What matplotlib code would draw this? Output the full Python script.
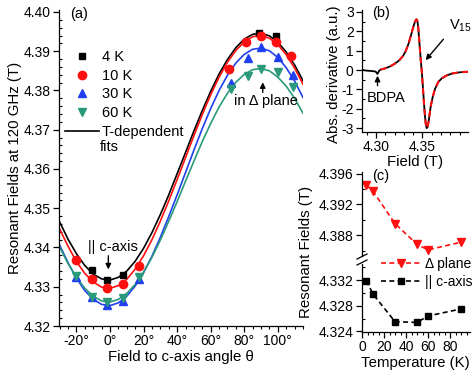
import numpy as np
import matplotlib
matplotlib.use('Agg')
import matplotlib.pyplot as plt
from matplotlib.lines import Line2D
from matplotlib.ticker import MultipleLocator

plt.rcParams['font.family'] = ['Liberation Sans', 'DejaVu Sans']
plt.rcParams['font.size'] = 10.5
plt.rcParams['axes.labelsize'] = 10.8
plt.rcParams['mathtext.default'] = 'regular'
plt.rcParams['axes.unicode_minus'] = False
plt.rcParams['axes.linewidth'] = 0.9

# ---- panel (a): resonant field vs angle ----
ang_4K = [-11, -2, 8, 89, 99]
b_4K = [4.3342, 4.3318, 4.3331, 4.3946, 4.3939]
ang_10K = [-20, -11, -2, 8, 17, 71, 81, 90, 99, 108]
b_10K = [4.3367, 4.3319, 4.3297, 4.3308, 4.3353, 4.3855, 4.3923, 4.3939, 4.3923, 4.3888]
ang_30K = [-20, -11, -2, 8, 17, 72, 82, 90, 100, 109]
b_30K = [4.3325, 4.3273, 4.3253, 4.3264, 4.3321, 4.3818, 4.3883, 4.3911, 4.3886, 4.3840]
ang_60K = [-20, -11, -2, 8, 17, 72, 82, 90, 100, 109]
b_60K = [4.3327, 4.3275, 4.3262, 4.3272, 4.3324, 4.3805, 4.3838, 4.3855, 4.3848, 4.3810]

# fit curves every 5 degrees
fit_ang = [-30, -25, -20, -15, -10, -5, 0, 5, 10, 15, 20, 25, 30, 35, 40,
           45, 50, 55, 60, 65, 70, 75, 80, 85, 90, 95, 100, 105, 110, 115]
fit_4K = [4.3465, 4.3421, 4.3384, 4.3354, 4.3332, 4.3320, 4.3317, 4.3324, 4.3340, 4.3365,
          4.3398, 4.3438, 4.3484, 4.3534, 4.3588, 4.3642, 4.3697, 4.3749, 4.3798, 4.3842,
          4.3879, 4.3909, 4.3931, 4.3943, 4.3946, 4.3939, 4.3923, 4.3898, 4.3865, 4.3825]
fit_10K = [4.3447, 4.3403, 4.3364, 4.3334, 4.3312, 4.3299, 4.3296, 4.3303, 4.3319, 4.3345,
           4.3379, 4.3420, 4.3467, 4.3519, 4.3573, 4.3629, 4.3685, 4.3739, 4.3789, 4.3834,
           4.3872, 4.3902, 4.3924, 4.3937, 4.3940, 4.3933, 4.3917, 4.3891, 4.3857, 4.3816]
fit_30K = [4.3406, 4.3361, 4.3322, 4.3290, 4.3268, 4.3255, 4.3252, 4.3259, 4.3276, 4.3302,
           4.3336, 4.3378, 4.3426, 4.3479, 4.3534, 4.3591, 4.3648, 4.3703, 4.3754, 4.3800,
           4.3839, 4.3870, 4.3892, 4.3905, 4.3908, 4.3901, 4.3884, 4.3858, 4.3824, 4.3782]
fit_60K = [4.3401, 4.3359, 4.3324, 4.3296, 4.3276, 4.3264, 4.3261, 4.3268, 4.3283, 4.3306,
           4.3337, 4.3375, 4.3419, 4.3467, 4.3517, 4.3569, 4.3620, 4.3670, 4.3716, 4.3758,
           4.3793, 4.3821, 4.3841, 4.3853, 4.3856, 4.3850, 4.3834, 4.3811, 4.3780, 4.3742]

angle_ticks = [-20, 0, 20, 40, 60, 80, 100]

# ---- panel (b): spectrum ----
field = [4.2855, 4.290, 4.295, 4.299, 4.3005, 4.3015, 4.3025, 4.3035, 4.305, 4.310,
         4.315, 4.320, 4.325, 4.329, 4.332, 4.335, 4.338, 4.340, 4.342, 4.3435,
         4.3445, 4.3455, 4.3465, 4.3475, 4.3485, 4.3495, 4.3505, 4.3515, 4.3525, 4.3535,
         4.3545, 4.3555, 4.3565, 4.3575, 4.3590, 4.361, 4.3635, 4.367, 4.371, 4.376,
         4.382, 4.388, 4.394, 4.399]
signal = [0.0, -0.03, -0.05, -0.07, -0.12, -0.20, -0.12, -0.03, 0.02, 0.09,
          0.18, 0.32, 0.50, 0.72, 0.98, 1.35, 1.85, 2.20, 2.50, 2.62,
          2.55, 2.20, 1.55, 0.95, 0.35, -0.20, -0.90, -1.60, -2.25, -2.75,
          -3.00, -2.95, -2.70, -2.35, -1.85, -1.40, -0.98, -0.62, -0.42, -0.28,
          -0.18, -0.13, -0.10, -0.09]
fit_start = 8  # fit drawn from 4.305 T on

# ---- panel (c): temperature dependence ----
temps = [4, 10, 30, 50, 60, 90]
delta_plane = [4.3945, 4.3937, 4.3895, 4.3868, 4.3861, 4.3871]
c_axis = [4.3319, 4.3298, 4.3255, 4.3254, 4.3264, 4.3275]

W, H = 474, 372


def box(l, t, r, b):
    return [l / W, 1 - b / H, (r - l) / W, (b - t) / H]


def style(ax):
    for s in ['top', 'right']:
        ax.spines[s].set_visible(False)
    ax.tick_params(which='major', direction='out', length=4, width=0.9, labelsize=10, pad=2)
    ax.tick_params(which='minor', direction='out', length=2, width=0.8)
    ax.tick_params(axis='y', which='minor', direction='in')


red = '#ff1010'
blue = '#2040f0'
teal = '#2a9a7a'
arrow = dict(arrowstyle='-|>', color='k', lw=1, mutation_scale=8)

fig = plt.figure(figsize=(4.74, 3.72), dpi=100)

ax = fig.add_axes(box(59, 10, 303, 326))
style(ax)
ax.plot(fit_ang, fit_4K, color='k', lw=1.2)
ax.plot(fit_ang, fit_10K, color=red, lw=1.2)
ax.plot(fit_ang, fit_30K, color=blue, lw=1.2)
ax.plot(fit_ang, fit_60K, color=teal, lw=1.2)
ax.plot(ang_4K, b_4K, 's', color='k', ms=5)
ax.plot(ang_10K, b_10K, 'o', color=red, ms=6)
ax.plot(ang_30K, b_30K, '^', color=blue, ms=6)
ax.plot(ang_60K, b_60K, 'v', color=teal, ms=6)
ax.set_xlim(-30.4, 115)
ax.set_ylim(4.32, 4.4005)
ax.set_xticks(angle_ticks, [f'{t}°' for t in angle_ticks])
ax.xaxis.set_minor_locator(MultipleLocator(5))
ax.set_yticks(np.arange(4.32, 4.4001, 0.01))
ax.yaxis.set_major_formatter(matplotlib.ticker.FormatStrFormatter('%.2f'))
ax.yaxis.set_minor_locator(MultipleLocator(0.002))
ax.set_ylabel('Resonant Fields at 120 GHz (T)')
ax.set_xlabel('Field to c-axis angle θ')
ax.yaxis.set_label_coords(-0.152, 0.5)
ax.xaxis.set_label_coords(0.5, -0.075)

handles = [Line2D([], [], ls='none', marker='s', color='k', ms=5),
           Line2D([], [], ls='none', marker='o', color=red, ms=6),
           Line2D([], [], ls='none', marker='^', color=blue, ms=6),
           Line2D([], [], ls='none', marker='v', color=teal, ms=6),
           Line2D([], [], color='k', lw=1.2)]
labels = ['4 K', '10 K', '30 K', '60 K', 'T-dependent']
ax.legend(handles, labels, loc='upper left', bbox_to_anchor=(0.025, 0.873),
          frameon=False, borderpad=0, borderaxespad=0, handlelength=2.3,
          handletextpad=0.2, labelspacing=0.32, fontsize=10.5)
ax.text(0.168, 0.565, 'fits', transform=ax.transAxes, ha='left', va='center')

ax.annotate('', xy=(-1, 4.3337), xytext=(-1, 4.3386), arrowprops=arrow)
ax.text(2, 4.3402, '|| c-axis', ha='center', va='center')
ax.annotate('', xy=(91, 4.3828), xytext=(91, 4.3788), arrowprops=arrow)
ax.text(93, 4.3772, 'in Δ plane', ha='center', va='center')

# panel (b)
bx = fig.add_axes(box(362, 10, 468, 132))
style(bx)
bx.plot(field, signal, color='k', lw=1.3)
bx.plot(field[fit_start:], signal[fit_start:], color=red, lw=1.5, ls=(0, (3, 2)))
bx.set_xlim(4.285, 4.399)
bx.set_ylim(-3.2, 3.1)
bx.set_xticks([4.30, 4.35], ['4.30', '4.35'])
bx.xaxis.set_minor_locator(MultipleLocator(0.01))
bx.set_yticks([-3, -2, -1, 0, 1, 2, 3])
bx.yaxis.set_minor_locator(MultipleLocator(0.5))
bx.set_xlabel('Field (T)')
bx.set_ylabel('Abs. derivative (a.u.)')
bx.xaxis.set_label_coords(0.5, -0.185)
bx.yaxis.set_label_coords(-0.2, 0.47)
bx.annotate('', xy=(4.3017, -0.15), xytext=(4.3017, -0.95), arrowprops=arrow)
bx.text(4.3110, -1.45, 'BDPA', ha='center', va='center')
bx.annotate('', xy=(4.3515, 0.4), xytext=(4.3745, 1.7), arrowprops=arrow)
bx.text(4.3790, 2.3, 'V$_{15}$', ha='left', va='center')

# panel (c)
cu = fig.add_axes(box(362, 172, 470, 256))
cl = fig.add_axes(box(362, 264, 470, 332))
for a in (cu, cl):
    style(a)
    a.set_xlim(0, 98)
cu.spines['bottom'].set_visible(False)
cu.tick_params(axis='x', which='both', bottom=False, labelbottom=False)
l1, = cu.plot(temps, delta_plane, color=red, ls=(0, (3, 2)), lw=1.2, marker='v', ms=6)
l2, = cl.plot(temps, c_axis, color='k', ls=(0, (3, 2)), lw=1.2, marker='s', ms=5)
cu.set_ylim(4.3853, 4.3962)
cl.set_ylim(4.3239, 4.3345)
cu.set_yticks([4.388, 4.392, 4.396], ['4.388', '4.392', '4.396'])
cu.yaxis.set_minor_locator(MultipleLocator(0.002))
cl.set_yticks([4.324, 4.328, 4.332], ['4.324', '4.328', '4.332'])
cl.yaxis.set_minor_locator(MultipleLocator(0.002))
cl.set_xticks([0, 20, 40, 60, 80])
cl.xaxis.set_minor_locator(MultipleLocator(5))
cl.set_xlabel('Temperature (K)')
cl.xaxis.set_label_coords(0.49, -0.36)
fig.text(306 / W, 1 - 252 / H, 'Resonant Fields (T)', rotation=90, ha='center', va='center',
         fontsize=10.8)
fig.legend([l1, l2], ['Δ plane', '|| c-axis'], loc='upper left',
           bbox_to_anchor=(381 / W, 1 - 257 / H), frameon=False, borderpad=0,
           borderaxespad=0, handlelength=2.9, handletextpad=0.25, labelspacing=0.3,
           numpoints=1, fontsize=10)
for y0 in (256, 262):
    fig.add_artist(Line2D([357 / W, 367 / W], [1 - (y0 + 3) / H, 1 - (y0 - 2) / H],
                          color='k', lw=0.9))

fig.text(70 / W, 1 - 14 / H, '(a)', ha='left', va='center')
fig.text(372 / W, 1 - 13 / H, '(b)', ha='left', va='center')
fig.text(372 / W, 1 - 176 / H, '(c)', ha='left', va='center')

fig.savefig('out.png', dpi=100)
